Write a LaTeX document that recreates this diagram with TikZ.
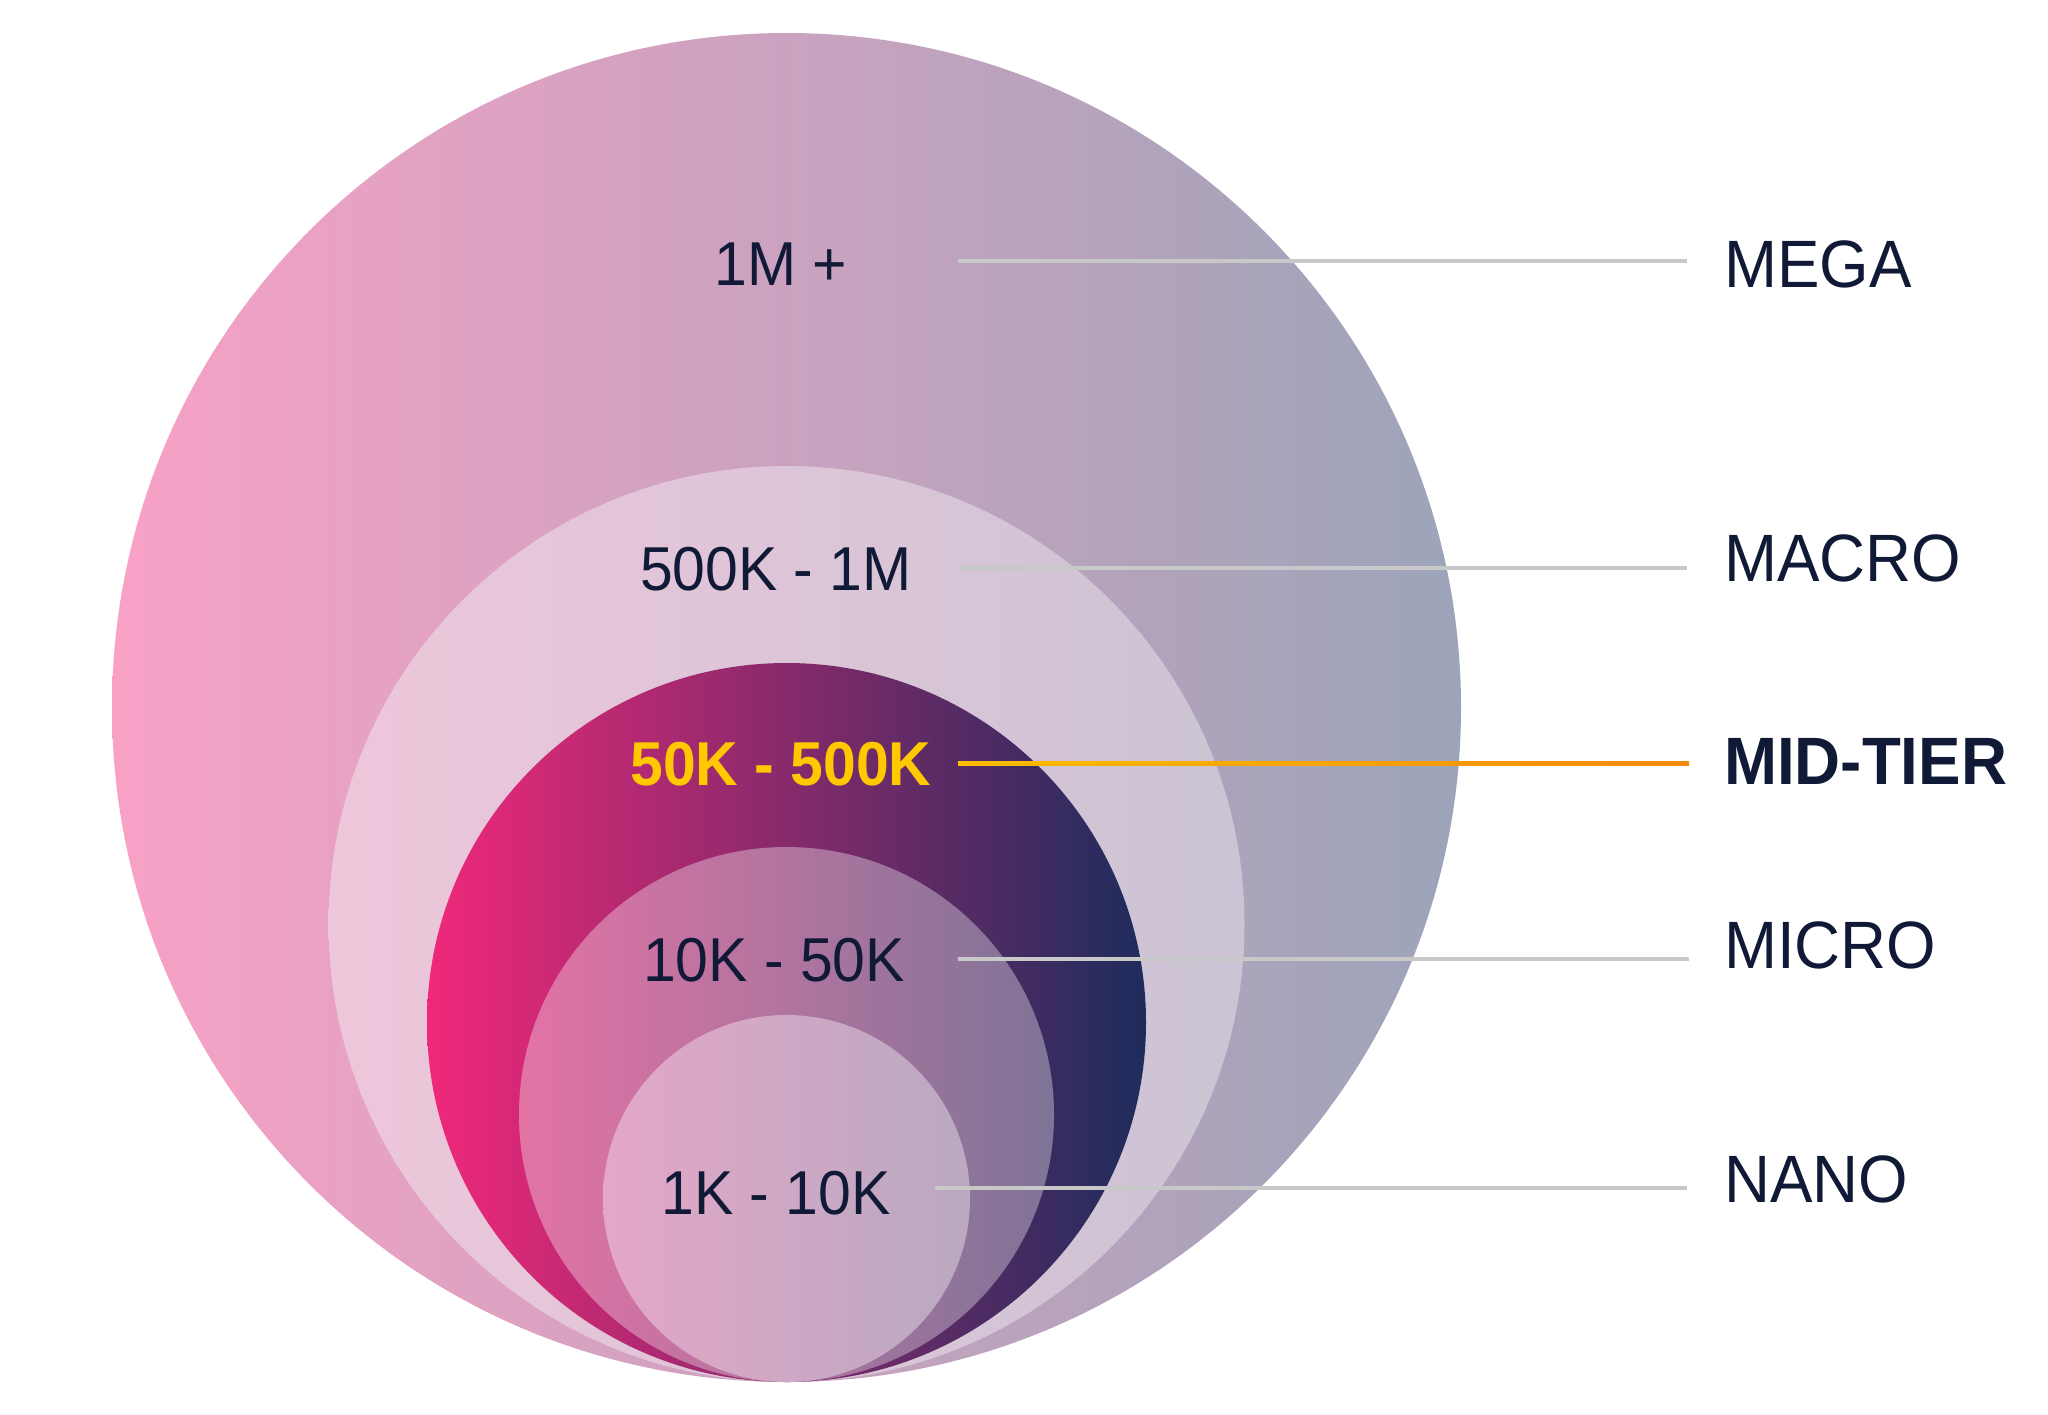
\documentclass[tikz,border=0pt]{standalone}
\usepackage{fontspec}
\setmainfont{Liberation Sans}[FakeStretch=0.95]
\definecolor{megaL}{HTML}{F8A1C5}
\definecolor{megaR}{HTML}{9CA4B9}
\definecolor{macroL}{HTML}{EEC6DA}
\definecolor{macroR}{HTML}{CBC4D4}
\definecolor{midL}{HTML}{F0287A}
\definecolor{midM}{HTML}{8A2A6A}
\definecolor{midR}{HTML}{1E2C5C}
\definecolor{nanoL}{HTML}{E4A7C7}
\definecolor{nanoR}{HTML}{B9A9C1}
\definecolor{ink}{HTML}{101A36}
\definecolor{gold}{HTML}{FFC800}
\definecolor{leader}{HTML}{C8C8C8}
\definecolor{orA}{HTML}{FFBC00}
\definecolor{orB}{HTML}{F38A0C}
\tikzset{
  valtxt/.style={anchor=base, inner sep=0pt, text=ink, font=\fontsize{62}{70}\selectfont},
  valbold/.style={anchor=base, inner sep=0pt, text=gold, font=\fontsize{62}{70}\selectfont\bfseries},
  tiertxt/.style={anchor=base west, inner sep=0pt, text=ink, font=\fontsize{67}{75}\selectfont},
  tierbold/.style={anchor=base west, inner sep=0pt, text=ink, font=\fontsize{67}{75}\selectfont\bfseries},
  leaderline/.style={draw=leader, line width=4pt}
}
\begin{document}
\begin{tikzpicture}[x=1pt,y=-1pt]
\useasboundingbox (0,0) rectangle (2048,1414);
% circles
\shade[left color=megaL, right color=megaR] (786.5,707.5) circle[radius=674.5pt];
\shade[left color=macroL, right color=macroR] (786.5,924) circle[radius=458pt];
\shade[left color=midL, middle color=midM, right color=midR] (786.5,1022.5) circle[radius=359.5pt];
\fill[white, fill opacity=0.35] (786.5,1114.5) circle[radius=267.5pt];
\shade[left color=nanoL, right color=nanoR] (786.5,1198.5) circle[radius=183.5pt];
% value labels
\node[valtxt] (v1) at (781,285) {1M +};
\node[valtxt] (v2) at (776,590) {500K - 1M};
\node[valbold] (v3) at (781,785) {50K - 500K};
\node[valtxt] (v4) at (774,981) {10K - 50K};
\node[valtxt] (v5) at (776,1214) {1K - 10K};
% tier labels
\node[tiertxt] (t1) at (1724,287) {MEGA};
\node[tiertxt] (t2) at (1724,581) {MACRO};
\node[tierbold] (t3) at (1724,784) {MID-TIER};
\node[tiertxt] (t4) at (1724,968) {MICRO};
\node[tiertxt] (t5) at (1724,1202) {NANO};
% leader lines
\coordinate (a1) at (958,261);  \coordinate (b1) at (1687,261);
\coordinate (a2) at (958,568);  \coordinate (b2) at (1687,568);
\coordinate (a3) at (958,763);  \coordinate (b3) at (1689,763);
\coordinate (a4) at (958,959);  \coordinate (b4) at (1689,959);
\coordinate (a5) at (935,1188); \coordinate (b5) at (1687,1188);
\draw[leaderline] (a1) -- (b1);
\draw[leaderline] (a2) -- (b2);
\shade[left color=orA, right color=orB] ([yshift=2pt]a3) rectangle ([yshift=-2pt]b3);
\draw[leaderline] (a4) -- (b4);
\draw[leaderline] (a5) -- (b5);
\end{tikzpicture}
\end{document}
